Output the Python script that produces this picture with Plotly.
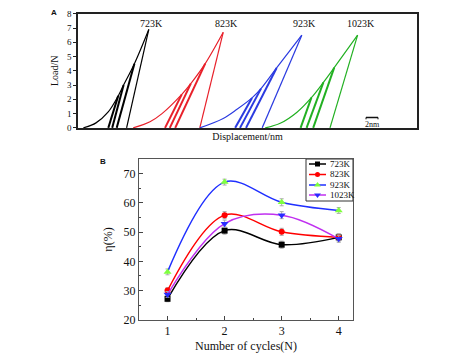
import plotly.graph_objects as go

# ---------------- Panel A data (displacement in nm, load in N) ----------------
temps = ["723K", "823K", "923K", "1023K"]
colors_a = ["#000000", "#e8202a", "#2b3be0", "#22b022"]

env_x_723 = [0.9, 3.0, 5.0, 6.7, 7.6, 9.4, 11.8]
env_y_723 = [0, 0.35, 1.1, 2.24, 3.0, 4.5, 6.9]
peak_x_723 = [6.7, 7.6, 9.4, 11.8]
peak_y_723 = [2.24, 3.0, 4.5, 6.9]
resid_723 = [5.05, 5.7, 6.45, 8.1]

env_x_823 = [9.2, 12.0, 14.0, 17.3, 18.8, 21.2, 24.2]
env_y_823 = [0, 0.43, 1.0, 2.35, 3.1, 4.5, 6.7]
peak_x_823 = [17.3, 18.8, 21.2, 24.2]
peak_y_823 = [2.35, 3.1, 4.5, 6.7]
resid_823 = [14.5, 15.3, 16.2, 20.3]

env_x_923 = [20.3, 24.2, 26.5, 29.0, 30.5, 33.1, 37.3]
env_y_923 = [0, 0.66, 1.3, 2.1, 2.75, 4.2, 6.5]
peak_x_923 = [29.0, 30.5, 33.1, 37.3]
peak_y_923 = [2.1, 2.75, 4.2, 6.5]
resid_923 = [26.2, 27.0, 28.0, 30.7]

env_x_1023 = [31.2, 33.7, 36.5, 38.9, 40.9, 42.7, 46.6]
env_y_1023 = [0, 0.32, 1.1, 2.12, 3.19, 4.22, 6.5]
peak_x_1023 = [38.9, 40.9, 42.7, 46.6]
peak_y_1023 = [2.12, 3.19, 4.22, 6.5]
resid_1023 = [37.1, 38.1, 39.2, 42.0]

load_ticks = [0, 1, 2, 3, 4, 5, 6, 7, 8]

# ---------------- Panel B data ----------------
cycles = [1, 2, 3, 4]
eta_723 = [27.2, 50.5, 45.7, 48.2]
eta_823 = [30.0, 55.8, 50.1, 48.2]
eta_923 = [36.4, 67.1, 60.2, 57.4]
eta_1023 = [28.7, 52.9, 55.8, 47.7]
err_723 = [1.0, 1.2, 1.2, 1.2]
err_823 = [1.0, 1.2, 1.2, 1.2]
err_923 = [1.0, 1.0, 1.2, 1.0]
err_1023 = [1.0, 1.2, 1.2, 1.2]

FONT = "Liberation Serif"
W, H = 474, 361
OFF = 8  # page body margin shift


def fx(px):
    return (px - OFF) / W


def fy(py):
    return 1 - (py - OFF) / H


fig = go.Figure()

groups = [
    (env_x_723, env_y_723, peak_x_723, peak_y_723, resid_723),
    (env_x_823, env_y_823, peak_x_823, peak_y_823, resid_823),
    (env_x_923, env_y_923, peak_x_923, peak_y_923, resid_923),
    (env_x_1023, env_y_1023, peak_x_1023, peak_y_1023, resid_1023),
]

annotations = []
for (ex, ey, px, py, rs), col, t in zip(groups, colors_a, temps):
    fig.add_trace(go.Scatter(x=ex, y=ey, mode="lines", line=dict(color=col, width=1.2, shape="spline"),
                             xaxis="x", yaxis="y", showlegend=False, hoverinfo="skip"))
    ix, iy = [], []
    for i in range(len(px) - 1):
        ix += [px[i], rs[i], None]
        iy += [py[i], 0, None]
    fig.add_trace(go.Scatter(x=ix, y=iy, mode="lines", line=dict(color=col, width=2.0),
                             xaxis="x", yaxis="y", showlegend=False, hoverinfo="skip"))
    fig.add_trace(go.Scatter(x=[px[-1], rs[-1]], y=[py[-1], 0], mode="lines",
                             line=dict(color=col, width=1.2),
                             xaxis="x", yaxis="y", showlegend=False, hoverinfo="skip"))
    annotations.append(dict(x=px[-1] + 0.5, y=7.35, xref="x", yref="y", text=t, showarrow=False,
                            xanchor="center", font=dict(family=FONT, size=10, color="#111")))

# scale bar
shapes = [
    dict(type="line", xref="x", yref="y", x0=48.0, x1=50.0, y0=0.73, y1=0.73,
         line=dict(color="#111", width=1.5)),
    dict(type="line", xref="x", yref="y", x0=48.0, x1=48.0, y0=0.73, y1=0.6,
         line=dict(color="#111", width=1)),
    dict(type="line", xref="x", yref="y", x0=50.0, x1=50.0, y0=0.73, y1=0.6,
         line=dict(color="#111", width=1)),
]
annotations.append(dict(x=49.0, y=0.25, xref="x", yref="y", text="2nm", showarrow=False,
                        xanchor="center", font=dict(family=FONT, size=8, color="#111")))

# ---------------- Panel B traces ----------------
series_b = [
    ("723K", eta_723, err_723, "#000000", "#000000", "square", 6),
    ("823K", eta_823, err_823, "#ff0000", "#ff0000", "circle", 6),
    ("923K", eta_923, err_923, "#1f2fff", "#7fff3f", "triangle-up", 7),
    ("1023K", eta_1023, err_1023, "#c030f0", "#2a2aff", "triangle-down", 7),
]
for name, ys, er, lc, mc, sym, ms in series_b:
    fig.add_trace(go.Scatter(
        x=cycles, y=ys, name=name, mode="lines+markers", showlegend=False,
        line=dict(color=lc, width=1.5, shape="spline", smoothing=1.0),
        marker=dict(color=mc, symbol=sym, size=ms),
        error_y=dict(type="data", array=er, color="#aaaaaa", thickness=1, width=2),
        xaxis="x2", yaxis="y2"))

# ---------------- manual compact legend ----------------
shapes.append(dict(type="rect", xref="paper", yref="paper", x0=fx(306), x1=fx(353), y0=fy(201), y1=fy(159),
                   line=dict(color="#333", width=1), fillcolor="white", layer="below"))
leg_rows = [164, 174.5, 185, 195]
for (name, ys, er, lc, mc, sym, ms), ry in zip(series_b, leg_rows):
    shapes.append(dict(type="line", xref="paper", yref="paper", x0=fx(309), x1=fx(326),
                       y0=fy(ry), y1=fy(ry), line=dict(color=lc, width=1.5), layer="below"))
    annotations.append(dict(x=fx(327.5), y=fy(ry), xref="paper", yref="paper", text=name, showarrow=False,
                            xanchor="left", yanchor="middle", font=dict(family=FONT, size=9, color="#111")))
for (name, ys, er, lc, mc, sym, ms), ry in zip(series_b, leg_rows):
    fig.add_trace(go.Scatter(x=[317.5], y=[ry], mode="markers",
                             marker=dict(color=mc, symbol=sym, size=ms - 1), xaxis="x3", yaxis="y3",
                             showlegend=False, hoverinfo="skip", cliponaxis=False))

annotations += [
    dict(text="<b>A</b>", x=fx(54), y=fy(13), xref="paper", yref="paper", xanchor="center", yanchor="middle",
         showarrow=False, font=dict(family="Liberation Sans", size=8)),
    dict(text="<b>B</b>", x=fx(103), y=fy(162), xref="paper", yref="paper", xanchor="center", yanchor="middle",
         showarrow=False, font=dict(family="Liberation Sans", size=8)),
]

fig.update_layout(
    width=W, height=H,
    margin=dict(l=0, r=0, t=0, b=0, autoexpand=False),
    paper_bgcolor="white", plot_bgcolor="rgba(0,0,0,0)",
    font=dict(family=FONT, color="#111"),
    showlegend=False,
    xaxis=dict(domain=[fx(78), fx(417)], range=[0, 56.5], showticklabels=False, ticks="",
               showgrid=False, zeroline=False, showline=True, linecolor="#222", linewidth=1.5,
               mirror=True, anchor="y",
               title=dict(text="Displacement/nm", font=dict(family=FONT, size=10), standoff=4)),
    yaxis=dict(domain=[fy(128), fy(13.5)], range=[-0.01, 8.02], tickvals=load_ticks, ticks="outside",
               ticklen=3, tickcolor="#222", showgrid=False, zeroline=False, showline=True,
               linecolor="#222", linewidth=1.5, mirror=True, anchor="x",
               tickfont=dict(family=FONT, size=9),
               title=dict(text="Load/N", font=dict(family=FONT, size=10), standoff=6)),
    xaxis2=dict(domain=[fx(139), fx(353)], range=[0.5, 4.25], tickvals=[1, 2, 3, 4],
                ticks="inside", ticklen=4, tickcolor="#444",
                minor=dict(tickvals=[1.5, 2.5, 3.5], ticks="inside", ticklen=2, tickcolor="#444"),
                showgrid=False, zeroline=False, showline=True, linecolor="#555", linewidth=1,
                mirror=True, anchor="y2", tickfont=dict(family=FONT, size=12),
                title=dict(text="Number of cycles(N)", font=dict(family=FONT, size=12), standoff=4)),
    yaxis2=dict(domain=[fy(320), fy(159)], range=[19.95, 75], tickvals=[20, 30, 40, 50, 60, 70],
                ticks="inside", ticklen=4, tickcolor="#444",
                minor=dict(tickvals=[25, 35, 45, 55, 65], ticks="inside", ticklen=2, tickcolor="#444"),
                showgrid=False, zeroline=False, showline=True, linecolor="#555", linewidth=1,
                mirror=True, anchor="x2", tickfont=dict(family=FONT, size=12),
                title=dict(text="η(%)", font=dict(family=FONT, size=12), standoff=8)),
    xaxis3=dict(domain=[0, 1], range=[OFF, OFF + W], visible=False, fixedrange=True, anchor="y3"),
    yaxis3=dict(domain=[0, 1], range=[OFF + H, OFF], visible=False, fixedrange=True, anchor="x3"),
    annotations=annotations,
    shapes=shapes,
)

fig.write_html("out.html")
